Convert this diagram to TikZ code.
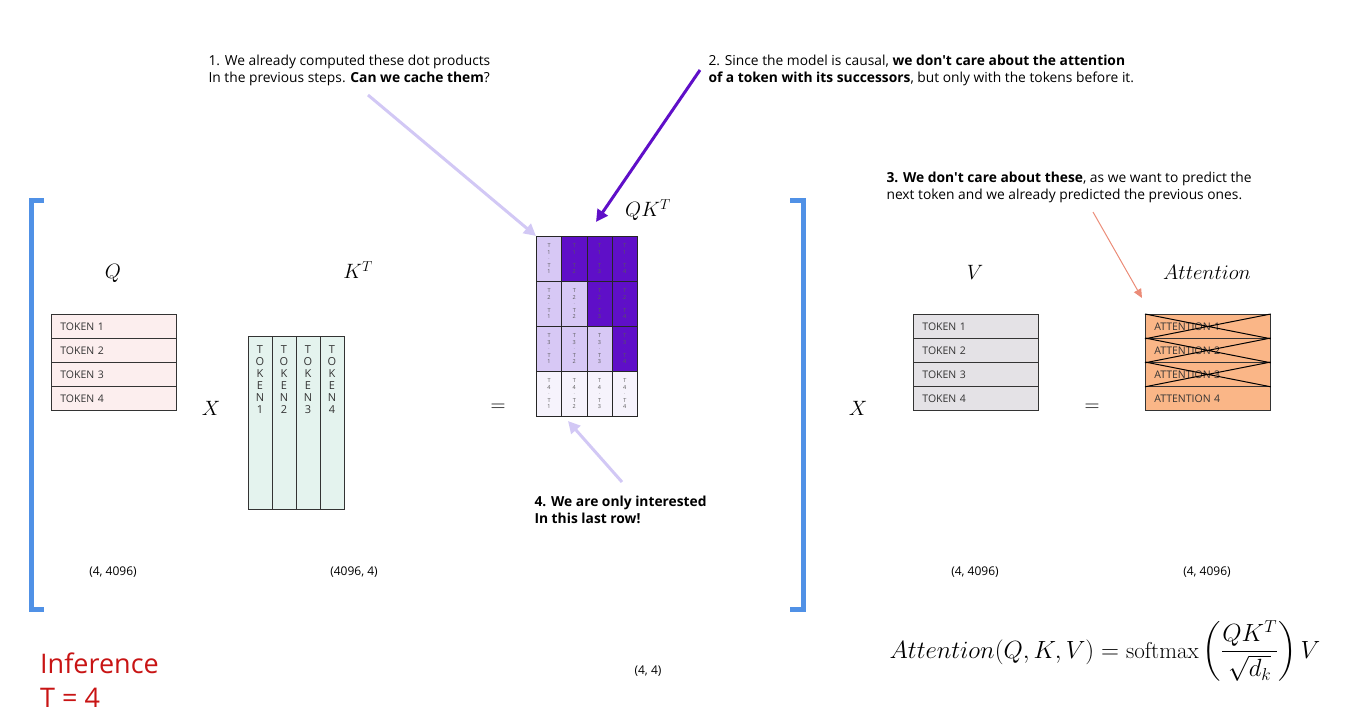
\documentclass[tikz,border=0pt]{standalone}
\usepackage{amsmath}
\usepackage{fontspec}
\newfontfamily\osans{Open Sans}
\usetikzlibrary{arrows.meta}
\definecolor{brk}{RGB}{80,145,230}
\definecolor{qfill}{RGB}{252,238,238}
\definecolor{kfill}{RGB}{228,243,238}
\definecolor{vfill}{RGB}{228,226,230}
\definecolor{afill}{RGB}{250,182,135}
\definecolor{lp}{RGB}{215,200,245}
\definecolor{dp}{RGB}{95,15,200}
\definecolor{vlp}{RGB}{246,243,252}
\definecolor{arl}{RGB}{210,200,245}
\definecolor{ars}{RGB}{235,140,120}
\definecolor{infred}{RGB}{200,20,20}
\tikzset{
  rowbox/.style={draw=black!80,line width=0.8pt,minimum width=125pt,minimum height=24pt,anchor=north west,inner sep=0pt,text width=107pt,font=\osans\fontsize{10.5}{10.5}\selectfont,align=left,text=black!80},
  colbox/.style={draw=black!80,line width=0.8pt,fill=kfill,minimum width=24pt,minimum height=173pt,anchor=north west,inner sep=0pt},
  cell/.style={draw=black!85,line width=0.8pt,minimum width=25.25pt,minimum height=45pt,anchor=north west,inner sep=0pt,font=\osans\fontsize{5.5}{6.5}\selectfont,align=center,text=black!65},
  mlabel/.style={font=\fontsize{22}{22}\selectfont},
  ann/.style={font=\osans\fontsize{13.8}{17}\selectfont,align=left,anchor=north west},
  dim/.style={font=\osans\fontsize{12}{12}\selectfont},
  brack/.style={draw=brk,line width=5pt},
  fatarrow/.style={line width=3pt,-{Triangle[length=12pt,width=12pt]}}
}
\begin{document}
\begin{tikzpicture}[x=1pt,y=-1pt]
\useasboundingbox (0,0) rectangle (1358,728);
% brackets
\draw[brack] (44,200) -- (31,200) -- (31,609) -- (44,609);
\draw[brack] (790,200) -- (803,200) -- (803,609) -- (790,609);
% Q
\node[mlabel] (ql) at (113,273) {$Q$};
\foreach \i in {1,...,4}{\node[rowbox,fill=qfill] (q\i) at (51,314+24*\i-24) {TOKEN \i};}
\node[mlabel] (x1) at (211,408) {$X$};
% K^T
\node[mlabel] (kl) at (358,270) {$K^T$};
\foreach \i in {1,...,4}{\node[colbox] (k\i) at (248+24*\i-24,336) {};
  \node[font=\osans\fontsize{11}{12}\selectfont,align=center,anchor=north,text=black!80] (kt\i) at (260+24*\i-24,342) {T\\O\\K\\E\\N\\\i};}
\node[mlabel] (eq1) at (498,408) {$=$};
% QK^T
\node[mlabel] (qkl) at (648,210) {$QK^T$};
\foreach \r in {1,...,4}{\foreach \c in {1,...,4}{
  \pgfmathsetmacro\pos{\c<=\r ? 1 : 0}
  \ifnum\r=4 \def\cc{vlp}\else\ifdim\pos pt>0.5pt \def\cc{lp}\else\def\cc{dp}\fi\fi
  \node[cell,fill=\cc] (m\r\c) at (536+25.25*\c-25.25,236+45*\r-45) {T\\\r\\$\cdot$\\T\\\c};}}
\node[dim] (d44) at (648,671) {(4, 4)};
% annotations
\node[ann] (a1) at (205,51) {1. We already computed these dot products\\In the previous steps. \textbf{Can we cache them}?};
\draw[fatarrow,arl] (368,95) -- (m11.north west);
\node[ann] (a2) at (705,51) {2. Since the model is causal, \textbf{we don't care about the attention}\\\textbf{of a token with its successors}, but only with the tokens before it.};
\draw[fatarrow,dp] (700,70) -- (596,222);
\node[ann] (a4) at (531,492) {\textbf{4. We are only interested}\\\textbf{In this last row!}};
\draw[fatarrow,arl] (622,482) -- (568,421);
\node[ann] (a3) at (883,168) {\textbf{3. We don't care about these}, as we want to predict the\\next token and we already predicted the previous ones.};
\draw[line width=1pt,ars,-{Triangle[length=9pt,width=8pt]}] (1093,212) -- (1142,298);
% V
\node[mlabel] (x2) at (858,408) {$X$};
\node[mlabel] (vl) at (975,272) {$V$};
\foreach \i in {1,...,4}{\node[rowbox,fill=vfill] (v\i) at (913,314+24*\i-24) {TOKEN \i};}
\node[mlabel] (eq2) at (1092,408) {$=$};
\node[mlabel] (al) at (1207,272) {$Attention$};
\foreach \i in {1,...,4}{\node[rowbox,fill=afill] (at\i) at (1145,314+24*\i-24) {ATTENTION \i};}
\foreach \i in {1,2,3}{\draw[line width=1pt] (at\i.north west) -- (at\i.south east) (at\i.south west) -- (at\i.north east);}
% dims
\node[dim] (dq) at (113,572) {(4, 4096)};
\node[dim] (dk) at (354,572) {(4096, 4)};
\node[dim] (dv) at (975,572) {(4, 4096)};
\node[dim] (da) at (1207,572) {(4, 4096)};
% inference
\node[font=\osans\fontsize{27}{34}\selectfont,text=infred,align=left,anchor=north west,inner sep=0pt] (inf) at (40,653) {Inference\\T = 4};
% formula
\node[font=\fontsize{23}{23}\selectfont] (form) at (1105,651) {$Attention(Q,K,V)=\mathrm{softmax}\left(\dfrac{QK^T}{\sqrt{d_k}}\right)V$};
\end{tikzpicture}
\end{document}
